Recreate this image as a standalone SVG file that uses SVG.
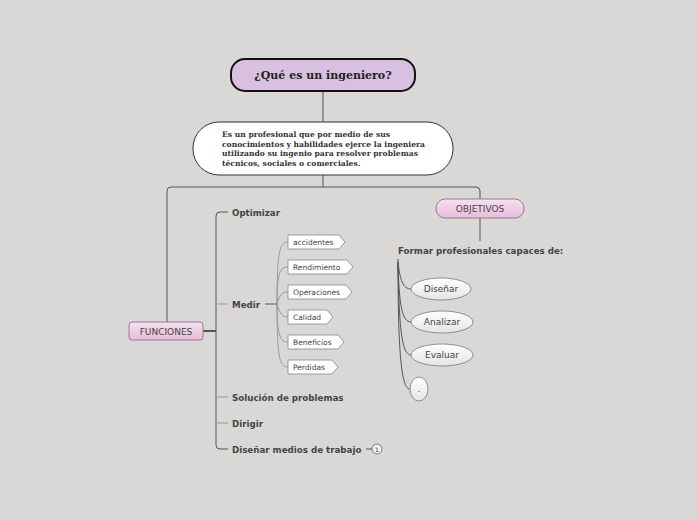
<svg xmlns="http://www.w3.org/2000/svg" width="697" height="520" viewBox="0 0 697 520">
<defs>
<linearGradient id="pk" x1="0" y1="0" x2="0" y2="1"><stop offset="0" stop-color="#f6e0f0"/><stop offset="1" stop-color="#e6bcd9"/></linearGradient>
<linearGradient id="wh" x1="0" y1="0" x2="0" y2="1"><stop offset="0" stop-color="#ffffff"/><stop offset="1" stop-color="#e4e4e4"/></linearGradient>
<style>
.l{fill:none;stroke:#555;stroke-width:1}
.lt{fill:none;stroke:#999;stroke-width:1}
.b{font-family:"DejaVu Sans",sans-serif;font-weight:bold;font-size:8.7px;fill:#444}
.s{font-family:"DejaVu Sans",sans-serif;font-size:7.5px;fill:#444}
.m{font-family:"DejaVu Sans",sans-serif;font-size:9px;fill:#444;text-anchor:middle}
.tag{fill:#fff;stroke:#888;stroke-width:0.8}
.ov{fill:url(#wh);stroke:#777;stroke-width:0.8}
</style>
</defs>
<rect width="697" height="520" fill="#d9d8d6"/>
<g id="connectors">
<path class="l" d="M323 91V122M323 175V187M171 187H476Q480 187 480 191V200M171 187Q167 187 167 191V322M480 218V241"/>
<path class="l" d="M203 331H216" style="stroke-width:2"/>
<path class="l" d="M216 216Q216 212 220 212H228M216 216V445Q216 449 220 449H228"/>
<path class="lt" d="M216 304H228M216 397H228M216 423H228"/>
<path class="l" d="M265 304H277"/>
<path class="lt" d="M277 304C277 250 280 242 288 242M277 304C277 272 280 267 288 267M277 304C280 294 282 292 288 292M277 304C280 314 282 317 288 317M277 304C277 336 280 342 288 342M277 304C277 360 280 367 288 367"/>
<path class="l" d="M366 449H372"/>
<path class="l" d="M398 259V270M398 262C400 280 403 289 411 289M398 262C399 305 402 322 411 322M398 262C399 330 402 355 411 355M398 262C398 360 402 389 410 389"/>
</g>
<g id="title">
<rect x="231" y="59" width="184" height="32" rx="14" fill="#d9bfe0" stroke="#111" stroke-width="2"/>
<text x="323" y="79" text-anchor="middle" font-family="DejaVu Serif, serif" font-weight="bold" font-size="11" fill="#222">¿Qué es un ingeniero?</text>
</g>
<g id="desc">
<rect x="193" y="122" width="260" height="53" rx="26" fill="#fff" stroke="#333" stroke-width="1"/>
<text font-family="DejaVu Serif, serif" font-weight="bold" font-size="7.6" fill="#333">
<tspan x="222" y="137">Es un profesional que por medio de sus</tspan>
<tspan x="222" y="146.5">conocimientos y habilidades ejerce la ingeniera</tspan>
<tspan x="222" y="156">utilizando su ingenio para resolver problemas</tspan>
<tspan x="222" y="165.5">técnicos, sociales o comerciales.</tspan>
</text>
</g>
<g id="funciones">
<rect x="129" y="322" width="74" height="18" rx="3" fill="url(#pk)" stroke="#9a7a90"/>
<text class="m" x="166" y="334.5">FUNCIONES</text>
</g>
<g id="optimizar"><text class="b" x="232" y="216">Optimizar</text></g>
<g id="medir"><text class="b" x="232" y="308">Medir</text></g>
<g id="solucion"><text class="b" x="232" y="401">Solución de problemas</text></g>
<g id="dirigir"><text class="b" x="232" y="427">Dirigir</text></g>
<g id="disenar-medios"><text class="b" x="232" y="453">Diseñar medios de trabajo</text>
<circle cx="377" cy="449" r="5" fill="#eee" stroke="#666" stroke-width="0.8"/><text x="377" y="451.5" font-family="DejaVu Sans,sans-serif" font-size="6" text-anchor="middle" fill="#444">1</text></g>
<g id="accidentes"><path class="tag" d="M288 235H339L345 242L339 249H288Z"/><text class="s" x="293" y="245">accidentes</text></g>
<g id="rendimiento"><path class="tag" d="M288 260H347L353 267L347 274H288Z"/><text class="s" x="293" y="270">Rendimiento</text></g>
<g id="operaciones"><path class="tag" d="M288 285H346L352 292L346 299H288Z"/><text class="s" x="293" y="295">Operaciones</text></g>
<g id="calidad"><path class="tag" d="M288 310H327L333 317L327 324H288Z"/><text class="s" x="293" y="320">Calidad</text></g>
<g id="beneficios"><path class="tag" d="M288 335H338L344 342L338 349H288Z"/><text class="s" x="293" y="345">Beneficios</text></g>
<g id="perdidas"><path class="tag" d="M288 360H332L338 367L332 374H288Z"/><text class="s" x="293" y="370">Perdidas</text></g>
<g id="objetivos">
<rect x="436" y="199" width="88" height="19" rx="9" fill="url(#pk)" stroke="#9a7a90"/>
<text class="m" x="480" y="212">OBJETIVOS</text>
</g>
<g id="formar"><text class="b" x="398" y="254">Formar profesionales capaces de:</text></g>
<g id="disenar"><ellipse class="ov" cx="441" cy="289" rx="30" ry="11"/><text class="m" x="441" y="292">Diseñar</text></g>
<g id="analizar"><ellipse class="ov" cx="442" cy="322" rx="31" ry="11"/><text class="m" x="442" y="325">Analizar</text></g>
<g id="evaluar"><ellipse class="ov" cx="442" cy="355" rx="31" ry="11"/><text class="m" x="442" y="358">Evaluar</text></g>
<g id="dot"><ellipse class="ov" cx="419" cy="389" rx="9" ry="12"/><text class="m" x="419" y="392">.</text></g>
</svg>
